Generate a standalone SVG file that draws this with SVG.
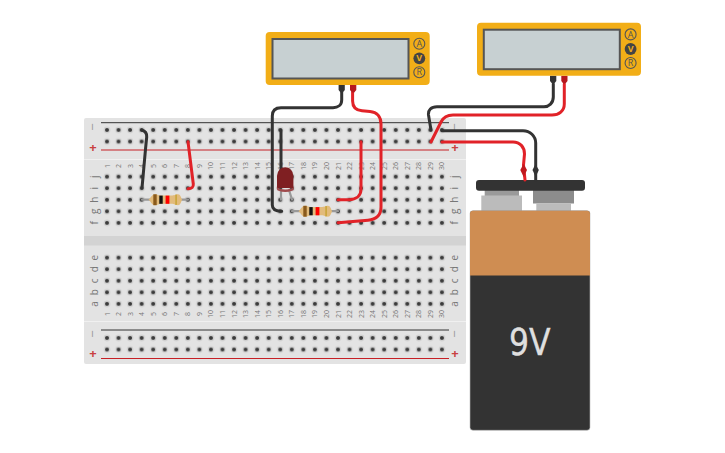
<svg xmlns="http://www.w3.org/2000/svg" width="725" height="453" viewBox="0 0 725 453">
<style>
.lb{font-family:"Open Sans","Liberation Sans",sans-serif;font-size:7px;fill:#777;text-anchor:middle}
.ltr{font-family:"Open Sans","Liberation Sans",sans-serif;font-size:10px;fill:#777;text-anchor:middle}
.minus{font-family:"Open Sans","Liberation Sans",sans-serif;font-size:13px;fill:#999;text-anchor:middle}
.plus{font-family:"Open Sans","Liberation Sans",sans-serif;font-size:13px;font-weight:700;fill:#c94040;text-anchor:middle}
.mb{fill:#f2ae17}
.ms{fill:#c7d0d2;stroke:#555;stroke-width:2}
.mc{fill:none;stroke:#555;stroke-width:1.1}
.mcd{fill:#444}
.mt{font-family:"Open Sans","Liberation Sans",sans-serif;font-size:9px;fill:#555;text-anchor:middle}
.mtl{font-family:"Open Sans","Liberation Sans",sans-serif;font-size:9px;font-weight:700;fill:#f2ae17;text-anchor:middle}
.wk{fill:none;stroke:#333;stroke-width:3;stroke-linecap:round;stroke-linejoin:round}
.wr{fill:none;stroke:#e12228;stroke-width:3;stroke-linecap:round;stroke-linejoin:round}
.lead{stroke:#999;stroke-width:2.2;fill:none;stroke-linecap:round}
</style>
<defs>
<g id="hole"><circle cx="5.8" cy="5.8" r="3.3" fill="#cfcfcf"/><circle cx="5.8" cy="5.8" r="2" fill="#3a3a3a"/></g>
<pattern id="holes1" x="101.2" y="124.2" width="11.55" height="11.55" patternUnits="userSpaceOnUse"><use href="#hole"/></pattern>
<pattern id="holes2" x="101.2" y="170.9" width="11.55" height="11.55" patternUnits="userSpaceOnUse"><use href="#hole"/></pattern>
<pattern id="holes3" x="101.2" y="251.9" width="11.55" height="11.55" patternUnits="userSpaceOnUse"><use href="#hole"/></pattern>
<pattern id="holes4" x="101.2" y="332.2" width="11.55" height="11.55" patternUnits="userSpaceOnUse"><use href="#hole"/></pattern>
<g id="res">
<path d="M142 199.7H188" class="lead"/>
<path d="M148.5 199.7C151 198 152 194.3 155 194.3C158 194.3 158 195.6 162 195.6H171C175 195.6 175 194.3 178 194.3C180.5 194.3 181 197.5 182 199.7C181 202 180.5 205.2 178 205.2C175 205.2 175 203.8 171 203.8H162C158 203.8 158 205.2 155 205.2C152 205.2 151 201.5 148.5 199.7Z" fill="#e2bb7c"/>
<rect x="153.3" y="194.3" width="3.4" height="10.9" fill="#8a5a1c"/>
<rect x="159.3" y="195.6" width="3.4" height="8.2" fill="#111"/>
<rect x="165.6" y="195.6" width="3.8" height="8.2" fill="#f00"/>
<rect x="175.3" y="194.6" width="1.6" height="10.3" fill="#c9a63a"/>
</g>
</defs>

<g id="breadboard">
<rect x="84" y="118" width="382" height="246" rx="2" fill="#e3e3e3"/>
<rect x="84" y="236" width="382" height="9.5" fill="#d3d3d3"/>
<path d="M84 159.5H466M84 321.5H466" stroke="#f0f0f0" stroke-width="1"/>
<rect x="101.2" y="124.2" width="346.5" height="23.1" fill="url(#holes1)"/>
<rect x="101.2" y="170.9" width="346.5" height="57.75" fill="url(#holes2)"/>
<rect x="101.2" y="251.9" width="346.5" height="57.75" fill="url(#holes3)"/>
<rect x="101.2" y="332.2" width="346.5" height="23.1" fill="url(#holes4)"/>
<path d="M101 122.7H449M101 330H449" stroke="#333" stroke-width="1"/>
<path d="M101 150H449M101 358.5H449" stroke="#c62026" stroke-width="1"/>
<text class="minus" transform="translate(97,127) rotate(-90)">−</text>
<text class="plus" x="93" y="151.5">+</text>
<text class="minus" transform="translate(459,127) rotate(-90)">−</text>
<text class="plus" x="455" y="151.5">+</text>
<text class="minus" transform="translate(97,334) rotate(-90)">−</text>
<text class="plus" x="93" y="358">+</text>
<text class="minus" transform="translate(459,334) rotate(-90)">−</text>
<text class="plus" x="455" y="358">+</text>
<g id="col-top">
<text class="lb" transform="translate(109.5,166) rotate(-90)">1</text>
<text class="lb" transform="translate(121,166) rotate(-90)">2</text>
<text class="lb" transform="translate(132.6,166) rotate(-90)">3</text>
<text class="lb" transform="translate(144.1,166) rotate(-90)">4</text>
<text class="lb" transform="translate(155.7,166) rotate(-90)">5</text>
<text class="lb" transform="translate(167.2,166) rotate(-90)">6</text>
<text class="lb" transform="translate(178.8,166) rotate(-90)">7</text>
<text class="lb" transform="translate(190.3,166) rotate(-90)">8</text>
<text class="lb" transform="translate(201.9,166) rotate(-90)">9</text>
<text class="lb" transform="translate(213.4,166) rotate(-90)">10</text>
<text class="lb" transform="translate(225,166) rotate(-90)">11</text>
<text class="lb" transform="translate(236.5,166) rotate(-90)">12</text>
<text class="lb" transform="translate(248.1,166) rotate(-90)">13</text>
<text class="lb" transform="translate(259.6,166) rotate(-90)">14</text>
<text class="lb" transform="translate(271.2,166) rotate(-90)">15</text>
<text class="lb" transform="translate(282.7,166) rotate(-90)">16</text>
<text class="lb" transform="translate(294.3,166) rotate(-90)">17</text>
<text class="lb" transform="translate(305.8,166) rotate(-90)">18</text>
<text class="lb" transform="translate(317.4,166) rotate(-90)">19</text>
<text class="lb" transform="translate(328.9,166) rotate(-90)">20</text>
<text class="lb" transform="translate(340.5,166) rotate(-90)">21</text>
<text class="lb" transform="translate(352,166) rotate(-90)">22</text>
<text class="lb" transform="translate(363.6,166) rotate(-90)">23</text>
<text class="lb" transform="translate(375.1,166) rotate(-90)">24</text>
<text class="lb" transform="translate(386.7,166) rotate(-90)">25</text>
<text class="lb" transform="translate(398.2,166) rotate(-90)">26</text>
<text class="lb" transform="translate(409.8,166) rotate(-90)">27</text>
<text class="lb" transform="translate(421.3,166) rotate(-90)">28</text>
<text class="lb" transform="translate(432.9,166) rotate(-90)">29</text>
<text class="lb" transform="translate(444.4,166) rotate(-90)">30</text>
</g>
<g id="col-bottom">
<text class="lb" transform="translate(109.5,314) rotate(-90)">1</text>
<text class="lb" transform="translate(121,314) rotate(-90)">2</text>
<text class="lb" transform="translate(132.6,314) rotate(-90)">3</text>
<text class="lb" transform="translate(144.1,314) rotate(-90)">4</text>
<text class="lb" transform="translate(155.7,314) rotate(-90)">5</text>
<text class="lb" transform="translate(167.2,314) rotate(-90)">6</text>
<text class="lb" transform="translate(178.8,314) rotate(-90)">7</text>
<text class="lb" transform="translate(190.3,314) rotate(-90)">8</text>
<text class="lb" transform="translate(201.9,314) rotate(-90)">9</text>
<text class="lb" transform="translate(213.4,314) rotate(-90)">10</text>
<text class="lb" transform="translate(225,314) rotate(-90)">11</text>
<text class="lb" transform="translate(236.5,314) rotate(-90)">12</text>
<text class="lb" transform="translate(248.1,314) rotate(-90)">13</text>
<text class="lb" transform="translate(259.6,314) rotate(-90)">14</text>
<text class="lb" transform="translate(271.2,314) rotate(-90)">15</text>
<text class="lb" transform="translate(282.7,314) rotate(-90)">16</text>
<text class="lb" transform="translate(294.3,314) rotate(-90)">17</text>
<text class="lb" transform="translate(305.8,314) rotate(-90)">18</text>
<text class="lb" transform="translate(317.4,314) rotate(-90)">19</text>
<text class="lb" transform="translate(328.9,314) rotate(-90)">20</text>
<text class="lb" transform="translate(340.5,314) rotate(-90)">21</text>
<text class="lb" transform="translate(352,314) rotate(-90)">22</text>
<text class="lb" transform="translate(363.6,314) rotate(-90)">23</text>
<text class="lb" transform="translate(375.1,314) rotate(-90)">24</text>
<text class="lb" transform="translate(386.7,314) rotate(-90)">25</text>
<text class="lb" transform="translate(398.2,314) rotate(-90)">26</text>
<text class="lb" transform="translate(409.8,314) rotate(-90)">27</text>
<text class="lb" transform="translate(421.3,314) rotate(-90)">28</text>
<text class="lb" transform="translate(432.9,314) rotate(-90)">29</text>
<text class="lb" transform="translate(444.4,314) rotate(-90)">30</text>
</g>
<g id="row-letters">
<text class="ltr" transform="translate(98,176.7) rotate(-90)">j</text>
<text class="ltr" transform="translate(98,188.2) rotate(-90)">i</text>
<text class="ltr" transform="translate(98,199.8) rotate(-90)">h</text>
<text class="ltr" transform="translate(98,211.3) rotate(-90)">g</text>
<text class="ltr" transform="translate(98,222.9) rotate(-90)">f</text>
<text class="ltr" transform="translate(458,176.7) rotate(-90)">j</text>
<text class="ltr" transform="translate(458,188.2) rotate(-90)">i</text>
<text class="ltr" transform="translate(458,199.8) rotate(-90)">h</text>
<text class="ltr" transform="translate(458,211.3) rotate(-90)">g</text>
<text class="ltr" transform="translate(458,222.9) rotate(-90)">f</text>
<text class="ltr" transform="translate(98,257.7) rotate(-90)">e</text>
<text class="ltr" transform="translate(98,269.2) rotate(-90)">d</text>
<text class="ltr" transform="translate(98,280.8) rotate(-90)">c</text>
<text class="ltr" transform="translate(98,292.3) rotate(-90)">b</text>
<text class="ltr" transform="translate(98,303.9) rotate(-90)">a</text>
<text class="ltr" transform="translate(458,257.7) rotate(-90)">e</text>
<text class="ltr" transform="translate(458,269.2) rotate(-90)">d</text>
<text class="ltr" transform="translate(458,280.8) rotate(-90)">c</text>
<text class="ltr" transform="translate(458,292.3) rotate(-90)">b</text>
<text class="ltr" transform="translate(458,303.9) rotate(-90)">a</text>
</g>
</g>

<g id="resistor-1"><use href="#res"/></g>
<g id="resistor-2" transform="translate(150,11.5)"><use href="#res"/></g>

<g id="battery">
<rect x="484.7" y="190" width="34.3" height="6" fill="#9a9a9a"/>
<rect x="481.3" y="195.5" width="40.7" height="16" fill="#bbb"/>
<rect x="533" y="190" width="41" height="13.5" fill="#8c8c8c"/>
<rect x="536.3" y="203.5" width="34.7" height="8" fill="#bbb"/>
<rect x="470" y="210.7" width="120" height="219.6" rx="3" fill="#333" stroke="#bbb" stroke-width="0.6"/>
<path d="M470 275.5V213.7a3 3 0 0 1 3-3H587a3 3 0 0 1 3 3V275.5Z" fill="#cf8d52"/>
<rect x="476" y="180" width="109" height="10.7" rx="3" fill="#333"/>
<text transform="translate(529.8,355) scale(0.83,1)" font-family="'DejaVu Sans',sans-serif" font-size="38" fill="#dfdfdf" stroke="#dfdfdf" stroke-width="0.4" text-anchor="middle">9V</text>
</g>

<g id="connectors">
<path class="wk" d="M141.7 130C145.5 131 146.9 134 146.7 137L145.7 147L142 188"/>
<path class="wr" d="M188 141.7L193.3 184C193.6 187 192 188.7 188 188.7"/>
<path class="wk" d="M281 130V172"/>
<path class="wk" d="M341.7 92V100C341.7 105 338 107.7 333 107.7H281C275 107.7 272.3 111 272.3 116V205C272.3 209 275 211.3 281.7 211.3"/>
<path class="wr" d="M352.6 92V101C352.6 107 356 110.3 362 110.8L370 111.5C377 112 381 117 381 124V207C381 216 376 219.5 368 220.2L338 222.7"/>
<path class="wr" d="M361 141.7V189C361 196 356 199.7 349 199.7H338"/>
<path class="wk" d="M553.3 84V97C553.3 103 549 106.7 544 106.7H437C431 106.7 428 110 428.5 115L431 130"/>
<path class="wr" d="M564.3 84V104C564.3 111 559 115 552 115H453C447 115 443 118 441 122L431 142"/>
<path class="wk" d="M442 130.7H523C530 130.7 535.7 136 535.7 143V180"/>
<path class="wr" d="M442 142H513C520 142 524.5 147 524.5 154L523.5 165L525 180"/>
<g id="probes">
<path d="M338.6 85H344.8V90L342.8 92.5H340.6L338.6 90Z" fill="#333"/>
<path d="M350 85H356.3V90L354.2 92.5H352L350 90Z" fill="#b5181e"/>
<path d="M550 75.7H556.3V81L554.3 83.5H552L550 81Z" fill="#333"/>
<path d="M561.3 75.7H567.5V81L565.5 83.5H563.2L561.3 81Z" fill="#b5181e"/>
<path d="M535.5 164L538.8 170L535.7 177L532.5 170Z" fill="#333"/>
<path d="M523.5 164L527 170L523.7 177L520.3 170Z" fill="#c0181e"/>
</g>
</g>

<g id="led">
<path d="M281 190V199.7M289 190L292 199.7" class="lead"/>
<path d="M277 188V175.8a8.2 8.5 0 0 1 16.4 0V188Z" fill="#7f1f22"/>
<path d="M276.8 186.5a8.5 3 0 0 0 17 0V189a8.5 3 0 0 1 -17 0Z" fill="#a04a4c"/>
</g>

<g id="multimeter-1">
<rect class="mb" x="265.7" y="32" width="164" height="53" rx="4"/>
<rect class="ms" x="272.5" y="39" width="136" height="39.5"/>
<circle class="mc" cx="419.3" cy="43.7" r="5.5"/><text class="mt" x="419.3" y="46.8">A</text>
<circle class="mcd" cx="419.3" cy="58.3" r="5.9"/><text class="mtl" x="419.3" y="61.4">V</text>
<circle class="mc" cx="419.3" cy="72.3" r="5.5"/><text class="mt" x="419.3" y="75.4">R</text>
</g>
<g id="multimeter-2">
<rect class="mb" x="477" y="22.7" width="164" height="53" rx="4"/>
<rect class="ms" x="483.8" y="29.7" width="136" height="39.5"/>
<circle class="mc" cx="630.6" cy="34.4" r="5.5"/><text class="mt" x="630.6" y="37.5">A</text>
<circle class="mcd" cx="630.6" cy="49" r="5.9"/><text class="mtl" x="630.6" y="52.1">V</text>
<circle class="mc" cx="630.6" cy="63" r="5.5"/><text class="mt" x="630.6" y="66.1">R</text>
</g>
</svg>
